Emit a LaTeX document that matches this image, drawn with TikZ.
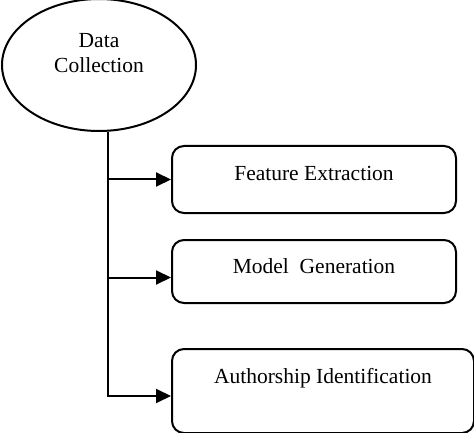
\documentclass[tikz,border=0pt]{standalone}
\usepackage{fontspec}
\setmainfont{Liberation Serif}
\usetikzlibrary{shapes.geometric,arrows.meta,positioning,calc}

\begin{document}
\begin{tikzpicture}[x=1pt,y=-1pt,line width=2pt,
	stage/.style={draw,rounded corners=12pt,inner xsep=0pt,inner ysep=0pt,anchor=north west,font=\fontsize{21.5}{25}\selectfont},
	branch/.style={-{Triangle[length=15pt,width=14pt]}}]
		\useasboundingbox (0,0) rectangle (474,433);
		\node[draw,ellipse,minimum width=194pt,minimum height=132pt,inner sep=0pt,
			label={[align=center,font=\fontsize{21.5}{25}\selectfont,yshift=12pt]center:Data\\Collection}] (dc) at (99,65) {};
		%
		\node[stage,minimum width=284pt,text height=35pt,text depth=32pt] (fe) at (171,145) {Feature Extraction};
		\node[stage,minimum width=284pt,text height=33pt,text depth=30pt] (mg) at (171,239) {Model\ \ Generation};
		\node[stage,minimum width=302pt,text height=34pt,text depth=50pt] (ai) at (171,348) {Authorship Identification};
		%
		\coordinate (trunk) at (dc.-82);
		\coordinate (mgin) at ($(mg.west)+(0,6)$);
		\coordinate (aiin) at ($(ai.west)+(0,5)$);
		\draw[branch] (trunk) |- (aiin);
		\draw[branch] (trunk |- fe.west) -- (fe.west);
		\draw[branch] (trunk |- mgin) -- (mgin);
	\end{tikzpicture}
\end{document}
